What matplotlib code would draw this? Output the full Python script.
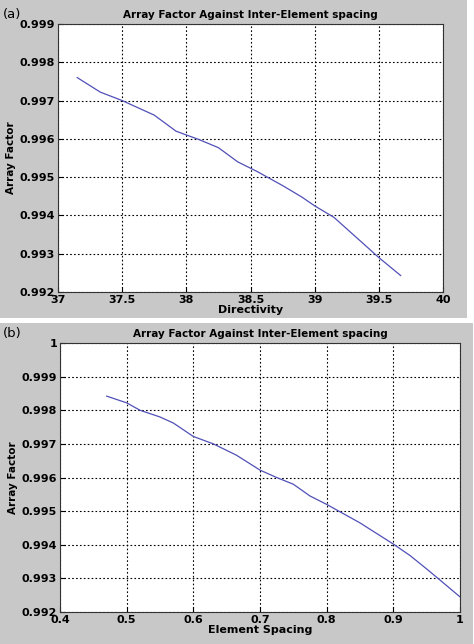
import matplotlib.pyplot as plt
from matplotlib.patches import Rectangle

# panel (a): directivity vs array factor
dir_x = [37.15, 37.33, 37.5, 37.75, 37.92, 38.1, 38.25, 38.4, 38.55,
         38.75, 38.9, 39.0, 39.15, 39.3, 39.5, 39.67]
dir_y = [0.9976, 0.99722, 0.99700, 0.99662, 0.99620, 0.99598, 0.99577, 0.99540,
         0.99515, 0.99478, 0.99448, 0.99425, 0.99395, 0.99350, 0.99290, 0.99243]

# panel (b): element spacing vs array factor
sp_x = [0.47, 0.5, 0.52, 0.55, 0.57, 0.6, 0.63, 0.665, 0.7, 0.725, 0.75,
        0.775, 0.8, 0.85, 0.9, 0.925, 0.95, 0.97, 1.0]
sp_y = [0.99842, 0.99822, 0.99800, 0.99780, 0.99762, 0.99722, 0.99700, 0.99666,
        0.99622, 0.99600, 0.99580, 0.99545, 0.99520, 0.99465, 0.99402, 0.99368,
        0.99328, 0.99295, 0.99245]

W, H = 474, 644
fig = plt.figure(figsize=(W / 100, H / 100), dpi=100)
fig.patch.set_facecolor('white')
gray = '#c8c8c8'
fig.patches.append(Rectangle((0, 1 - 318 / H), 467 / W, 318 / H, transform=fig.transFigure,
                             facecolor=gray, edgecolor='none', zorder=-1))
fig.patches.append(Rectangle((0, 0), 473 / W, 321 / H, transform=fig.transFigure,
                             facecolor=gray, edgecolor='none', zorder=-1))


def panel(rect, x, y, xlim, ylim, xticks, yticks, xlabels, ylabels, xlab, tag, tag_y):
    l, t, r, b = rect
    ax = fig.add_axes([l / W, 1 - b / H, (r - l) / W, (b - t) / H])
    ax.plot(x, y, color='#5050b8', lw=0.9)
    ax.set_xlim(xlim)
    ax.set_ylim(ylim)
    ax.set_xticks(xticks)
    ax.set_xticklabels(xlabels)
    ax.set_yticks(yticks)
    ax.set_yticklabels(ylabels)
    ax.grid(True, color='black', linestyle=(0, (1.5, 2)), lw=0.8)
    ax.tick_params(direction='in', labelsize=8, pad=2)
    for lab in ax.get_xticklabels() + ax.get_yticklabels():
        lab.set_fontweight('bold')
    for s in ax.spines.values():
        s.set_color('#333333')
    ax.set_title('Array Factor Against Inter-Element spacing', fontsize=7.5,
                 fontweight='bold', pad=4)
    ax.set_xlabel(xlab, fontsize=8, fontweight='bold', labelpad=0)
    ax.set_ylabel('Array Factor', fontsize=7.5, fontweight='bold', labelpad=3)
    fig.text(3 / W, 1 - tag_y / H, tag, fontsize=9.5)
    return ax


panel((58, 24, 443, 292), dir_x, dir_y, (37, 40), (0.992, 0.999),
      [37, 37.5, 38, 38.5, 39, 39.5, 40],
      [0.992 + 0.001 * i for i in range(8)],
      ['37', '37.5', '38', '38.5', '39', '39.5', '40'],
      ['0.992', '0.993', '0.994', '0.995', '0.996', '0.997', '0.998', '0.999'],
      'Directivity', '(a)', 18)

panel((60, 343, 460, 612), sp_x, sp_y, (0.4, 1.0), (0.992, 1.0),
      [0.4, 0.5, 0.6, 0.7, 0.8, 0.9, 1.0],
      [0.992 + 0.001 * i for i in range(9)],
      ['0.4', '0.5', '0.6', '0.7', '0.8', '0.9', '1'],
      ['0.992', '0.993', '0.994', '0.995', '0.996', '0.997', '0.998', '0.999', '1'],
      'Element Spacing', '(b)', 337)

fig.savefig('out.png', dpi=100)
